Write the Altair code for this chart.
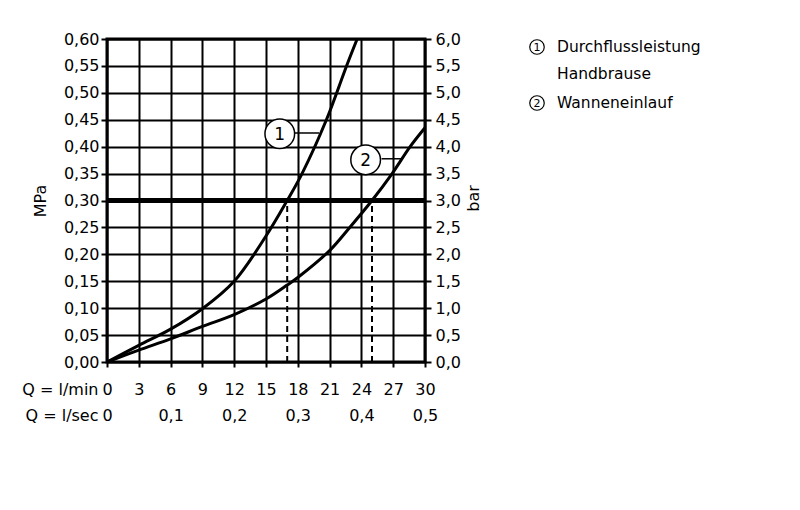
import altair as alt
import pandas as pd

# ---- data ----
flow_1 = [0, 3, 6, 9, 12, 15, 17, 18.4, 20.7, 22.6, 23.6]
press_1 = [0, 0.031, 0.061, 0.099, 0.150, 0.234, 0.300, 0.350, 0.450, 0.550, 0.600]

flow_2 = [0, 3, 6, 9, 12, 15, 17, 18, 21, 22.9, 25, 26.9, 28.6, 30]
press_2 = [0, 0.022, 0.043, 0.066, 0.088, 0.117, 0.143, 0.157, 0.207, 0.250, 0.300, 0.350, 0.400, 0.435]

x_ticks = list(range(0, 31, 3))
y_ticks = [round(i * 0.05, 2) for i in range(13)]

limit_mpa = [0.30]
cross_flow = [17, 25]

curve_ids = ["1", "2"]
label_flow = [16.3, 24.4]
label_press = [0.424, 0.3755]
leader_from = [17.7, 25.9]
leader_to = [20.0, 27.9]
leader_press = [0.4254, 0.3775]

legend_marks = ["1", "", "2"]
legend_lines = ["Durchflussleistung", "Handbrause", "Wanneneinlauf"]

FONT = "DejaVu Sans"

curves = pd.DataFrame(
    {"q": flow_1 + flow_2, "p": press_1 + press_2,
     "s": ["1"] * len(flow_1) + ["2"] * len(flow_2)}
)
limit_df = pd.DataFrame({"p": limit_mpa, "q0": [0], "q1": [30]})
cross_df = pd.DataFrame({"q": cross_flow, "p0": [0, 0], "p1": limit_mpa * 2})
lab_df = pd.DataFrame({"id": curve_ids, "q": label_flow, "p": label_press})
lead_df = pd.DataFrame({"q0": leader_from, "q1": leader_to, "p": leader_press})

xs = alt.Scale(domain=[0, 30], nice=False, zero=False)
ys = alt.Scale(domain=[0, 0.6], nice=False, zero=False)

x_axis = alt.Axis(
    values=x_ticks, grid=True, gridColor="black", gridWidth=2, gridOpacity=1,
    domain=False, ticks=True, tickSize=5, tickColor="black", tickWidth=2,
    labelFont=FONT, labelFontSize=16, labelColor="black", labelPadding=14,
    labelLineHeight=26, labelFlush=False, labelOverlap=False,
    labelExpr="[datum.label, datum.value % 6 == 0 ? replace(format(datum.value / 60, '.1~f'), '.', ',') : ' ']",
    title=["Q = l/min", "Q = l/sec"], titleFont=FONT, titleFontSize=16,
    titleFontWeight="normal", titleColor="black", titleAngle=0,
    titleAlign="right", titleBaseline="top", titleX=-9, titleY=19,
    titleLineHeight=26,
)

y_left = alt.Axis(
    values=y_ticks, grid=True, gridColor="black", gridWidth=2, gridOpacity=1,
    domain=False, tickSize=6, tickColor="black", tickWidth=2,
    labelFont=FONT, labelFontSize=16, labelColor="black", labelPadding=2,
    labelFlush=False, labelOverlap=False,
    labelExpr="replace(format(datum.value, '.2f'), '.', ',')",
    title="MPa", titleFont=FONT, titleFontSize=16, titleFontWeight="normal",
    titleColor="black", titleAngle=270, titleAlign="center",
    titleBaseline="middle", titleX=-67, titleY=161.5,
)

y_right = alt.Axis(
    orient="right", values=y_ticks, grid=False,
    domain=False, tickSize=6, tickColor="black", tickWidth=2,
    labelFont=FONT, labelFontSize=16, labelColor="black", labelPadding=4,
    labelFlush=False, labelOverlap=False,
    labelExpr="replace(format(datum.value * 10, '.1f'), '.', ',')",
    title="bar", titleFont=FONT, titleFontSize=16, titleFontWeight="normal",
    titleColor="black", titleAngle=270, titleAlign="center",
    titleBaseline="middle", titleX=48, titleY=159,
)


def X(field):
    return alt.X(field, type="quantitative", scale=xs, axis=x_axis)


curve_layer = alt.Chart(curves).mark_line(
    color="black", strokeWidth=3, interpolate="catmull-rom"
).encode(
    x=X("q"),
    y=alt.Y("p:Q", scale=ys, axis=y_left),
    detail="s:N",
)

limit_layer = alt.Chart(limit_df).mark_rule(color="black", strokeWidth=5).encode(
    x=X("q0"),
    x2="q1:Q",
    y=alt.Y("p:Q", scale=ys, axis=y_right),
)

cross_layer = alt.Chart(cross_df).mark_rule(
    color="black", strokeWidth=2, strokeDash=[6, 4]
).encode(
    x=X("q"),
    y=alt.Y("p0:Q", scale=ys, axis=None),
    y2="p1:Q",
)

lead_layer = alt.Chart(lead_df).mark_rule(color="black", strokeWidth=1.5).encode(
    x=X("q0"),
    x2="q1:Q",
    y=alt.Y("p:Q", scale=ys, axis=None),
)

circle_layer = alt.Chart(lab_df).mark_point(
    shape="circle", size=880, filled=False, fill="white", fillOpacity=1,
    stroke="black", strokeWidth=1.5, opacity=1,
).encode(
    x=X("q"),
    y=alt.Y("p:Q", scale=ys, axis=None),
)

num_layer = alt.Chart(lab_df).mark_text(
    font=FONT, fontSize=17, color="black", align="center", baseline="middle", dy=1
).encode(
    x=X("q"),
    y=alt.Y("p:Q", scale=ys, axis=None),
    text="id:N",
)

legend_layers = []
row_y = [8, 35, 64]
for mark_txt, line_txt, yy in zip(legend_marks, legend_lines, row_y):
    df = pd.DataFrame({"m": [mark_txt], "t": [line_txt]})
    if mark_txt:
        legend_layers.append(
            alt.Chart(df).mark_point(
                shape="circle", size=210, filled=False, stroke="black",
                strokeWidth=1.2, opacity=1,
            ).encode(x=alt.value(430), y=alt.value(yy))
        )
        legend_layers.append(
            alt.Chart(df).mark_text(
                font=FONT, fontSize=11, color="black", align="center", baseline="middle",
                dy=0.5,
            ).encode(x=alt.value(430), y=alt.value(yy), text="m:N")
        )
    legend_layers.append(
        alt.Chart(df).mark_text(
            font=FONT, fontSize=15.5, color="black", align="left", baseline="middle"
        ).encode(x=alt.value(450), y=alt.value(yy), text="t:N")
    )

chart = alt.layer(
    curve_layer, limit_layer, cross_layer, lead_layer, circle_layer, num_layer,
    *legend_layers,
).resolve_axis(y="independent").resolve_scale(y="shared").properties(
    width=318, height=323,
    autosize=alt.AutoSizeParams(type="none"),
    padding={"left": 99, "top": 31, "right": 367, "bottom": 140},
).configure_view(stroke="black", strokeWidth=3)

chart.save("out.html", embed_options={"renderer": "svg", "actions": False})
